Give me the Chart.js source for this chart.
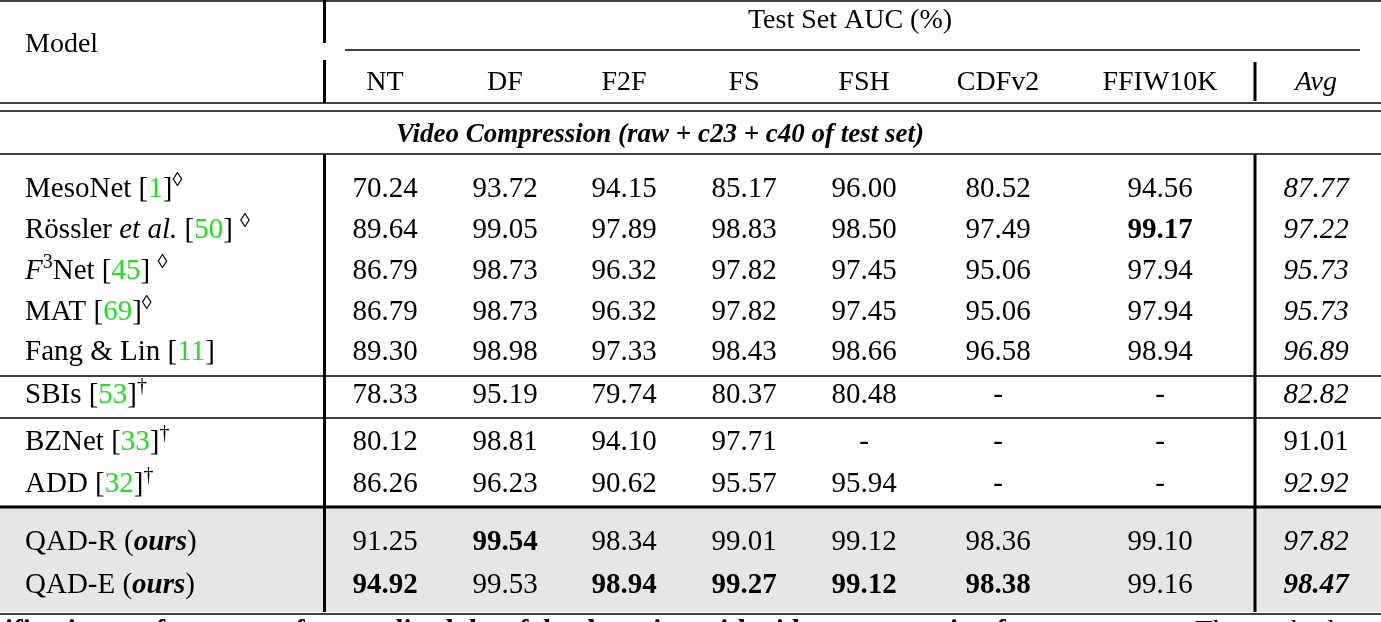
<!DOCTYPE html>
<html>
<head>
<meta charset="utf-8">
<script src="https://cdn.jsdelivr.net/npm/chart.js@4"></script>
<style>
  html, body { margin: 0; padding: 0; background: #fff; }
  #wrap { width: 1381px; height: 622px; position: relative; }
</style>
</head>
<body>
<div id="wrap"><canvas id="tabela" width="1381" height="622"></canvas></div>
<script>
const columns = ['NT', 'DF', 'F2F', 'FS', 'FSH', 'CDFv2', 'FFIW10K', 'Avg'];
const models = [
  'MesoNet [{1}]^◊^',
  'Rössler _et al._ [{50}] ^◊^',
  '_F_^3^Net [{45}] ^◊^',
  'MAT [{69}]^◊^',
  'Fang & Lin [{11}]',
  'SBIs [{53}]^†^',
  'BZNet [{33}]^†^',
  'ADD [{32}]^†^',
  'QAD-R (*ours*)',
  'QAD-E (*ours*)',
];
const valNT = [70.24, 89.64, 86.79, 86.79, 89.3, 78.33, 80.12, 86.26, 91.25, 94.92];
const valDF = [93.72, 99.05, 98.73, 98.73, 98.98, 95.19, 98.81, 96.23, 99.54, 99.53];
const valF2F = [94.15, 97.89, 96.32, 96.32, 97.33, 79.74, 94.1, 90.62, 98.34, 98.94];
const valFS = [85.17, 98.83, 97.82, 97.82, 98.43, 80.37, 97.71, 95.57, 99.01, 99.27];
const valFSH = [96.0, 98.5, 97.45, 97.45, 98.66, 80.48, null, 95.94, 99.12, 99.12];
const valCDF = [80.52, 97.49, 95.06, 95.06, 96.58, null, null, null, 98.36, 98.38];
const valFFIW = [94.56, 99.17, 97.94, 97.94, 98.94, null, null, null, 99.1, 99.16];
const valAvg = [87.77, 97.22, 95.73, 95.73, 96.89, 82.82, 91.01, 92.92, 97.82, 98.47];
// [linha, coluna] em negrito
const negritos = [[1, 6], [8, 1], [9, 0], [9, 2], [9, 3], [9, 4], [9, 5], [9, 7]];
const avgSemItalico = [6];

// layout
const colX = [385, 505, 624, 744, 864, 998, 1160, 1316];
const rowY = [187, 228, 269, 310, 350, 393, 440, 482, 540, 583];
const FONTE = 'Liberation Serif';
const TAM = 29;

function parseMarkup(txt) {
  const segs = [];
  let st = { green: false, it: false, bi: false, sup: false };
  let buf = '';
  const push = () => { if (buf) segs.push({ t: buf, ...st }); buf = ''; };
  for (const ch of txt) {
    if (ch === '{') { push(); st = { ...st, green: true }; }
    else if (ch === '}') { push(); st = { ...st, green: false }; }
    else if (ch === '_') { push(); st = { ...st, it: !st.it }; }
    else if (ch === '*') { push(); st = { ...st, bi: !st.bi }; }
    else if (ch === '^') { push(); st = { ...st, sup: !st.sup }; }
    else buf += ch;
  }
  push();
  return segs;
}

function fontDe(s, tam) {
  const size = s.sup ? Math.round(tam * 0.68) : tam;
  const style = s.bi ? 'italic bold ' : s.it ? 'italic ' : '';
  return `${style}${size}px "${FONTE}"`;
}

function desenharRico(ctx, txt, x, y, tam, align) {
  const segs = parseMarkup(txt);
  let w = 0;
  segs.forEach((s) => { ctx.font = fontDe(s, tam); w += ctx.measureText(s.t).width; });
  let cx = align === 'center' ? x - w / 2 : x;
  ctx.textAlign = 'left';
  ctx.textBaseline = 'alphabetic';
  segs.forEach((s) => {
    ctx.font = fontDe(s, tam);
    ctx.fillStyle = s.green ? '#22dd22' : '#000';
    ctx.fillText(s.t, cx, s.sup ? y - tam * 0.38 : y);
    cx += ctx.measureText(s.t).width;
  });
}

const tabelaPlugin = {
  id: 'tabela',
  afterDraw(chart) {
    const ctx = chart.ctx;
    const sx = chart.scales.x;
    const sy = chart.scales.y;
    const X = (v) => sx.getPixelForValue(v);
    const Y = (v) => sy.getPixelForValue(v);
    const base = TAM * 0.34;

    ctx.save();
    // faixa cinza
    ctx.fillStyle = '#e6e6e6';
    ctx.fillRect(X(0), Y(508), X(1381) - X(0), Y(612) - Y(508));

    const linha = (x1, y1, x2, y2, lw) => {
      ctx.beginPath();
      ctx.lineWidth = lw;
      ctx.strokeStyle = '#000';
      ctx.moveTo(X(x1), Y(y1));
      ctx.lineTo(X(x2), Y(y2));
      ctx.stroke();
    };
    linha(0, 1, 1381, 1, 1.5);
    linha(324.5, 0, 324.5, 43, 3);
    linha(324.5, 60, 324.5, 103, 3);
    linha(345, 50, 1360, 50, 1.5);
    linha(1255, 62, 1255, 101, 3);
    linha(0, 103, 1381, 103, 1.5);
    linha(0, 111, 1381, 111, 1.5);
    linha(0, 154, 1381, 154, 1.5);
    linha(324.5, 154, 324.5, 612, 3);
    linha(1255, 154, 1255, 612, 3);
    linha(0, 376, 1381, 376, 1.5);
    linha(0, 418, 1381, 418, 1.5);
    linha(0, 507, 1381, 507, 3);
    linha(0, 614, 1381, 614, 1.5);

    // cabeçalho
    desenharRico(ctx, 'Model', X(25), Y(42) + base, TAM - 1, 'left');
    desenharRico(ctx, 'Test Set AUC (%)', X(850), Y(18) + base, TAM - 1, 'center');
    columns.forEach((c, j) => {
      desenharRico(ctx, j === 7 ? '_' + c + '_' : c, X(colX[j]), Y(80) + base, TAM - 1, 'center');
    });
    desenharRico(ctx, '*Video Compression (raw + c23 + c40 of test set)*', X(660), Y(132) + base, TAM - 2, 'center');

    // linhas de dados
    models.forEach((m, i) => {
      desenharRico(ctx, m, X(25), Y(rowY[i]) + base, TAM, 'left');
      chart.data.datasets.forEach((ds, j) => {
        const p = ds.data[i];
        const txt = p.v === null ? '-' : p.v.toFixed(2);
        const negrito = negritos.some(([r, c]) => r === i && c === j);
        const italico = j === 7 && !avgSemItalico.includes(i);
        ctx.font = `${italico ? 'italic ' : ''}${negrito ? 'bold ' : ''}${TAM}px "${FONTE}"`;
        ctx.fillStyle = '#000';
        ctx.textAlign = 'center';
        ctx.textBaseline = 'alphabetic';
        ctx.fillText(txt, X(p.x), Y(p.y) + base);
      });
    });

    // texto da legenda cortado
    ctx.font = `bold ${TAM}px "${FONTE}"`;
    ctx.textAlign = 'left';
    ctx.fillText('ification performance of generalized deepfake detection with video compression formats.', X(5), Y(640));
    ctx.font = `${TAM}px "${FONTE}"`;
    ctx.fillText('The method', X(1195), Y(640));
    ctx.restore();
  },
};

const seriesData = [valNT, valDF, valF2F, valFS, valFSH, valCDF, valFFIW, valAvg];

new Chart(document.getElementById('tabela'), {
  type: 'scatter',
  data: {
    datasets: seriesData.map((serie, j) => ({
      label: columns[j],
      data: serie.map((v, i) => ({ x: colX[j], y: rowY[i], v })),
      pointRadius: 0,
      pointHoverRadius: 0,
    })),
  },
  options: {
    responsive: false,
    animation: false,
    layout: { padding: 0 },
    events: [],
    scales: {
      x: { type: 'linear', min: 0, max: 1381, display: false },
      y: { type: 'linear', min: 0, max: 622, reverse: true, display: false },
    },
    plugins: { legend: { display: false }, tooltip: { enabled: false } },
  },
  plugins: [tabelaPlugin],
});
</script>
</body>
</html>
